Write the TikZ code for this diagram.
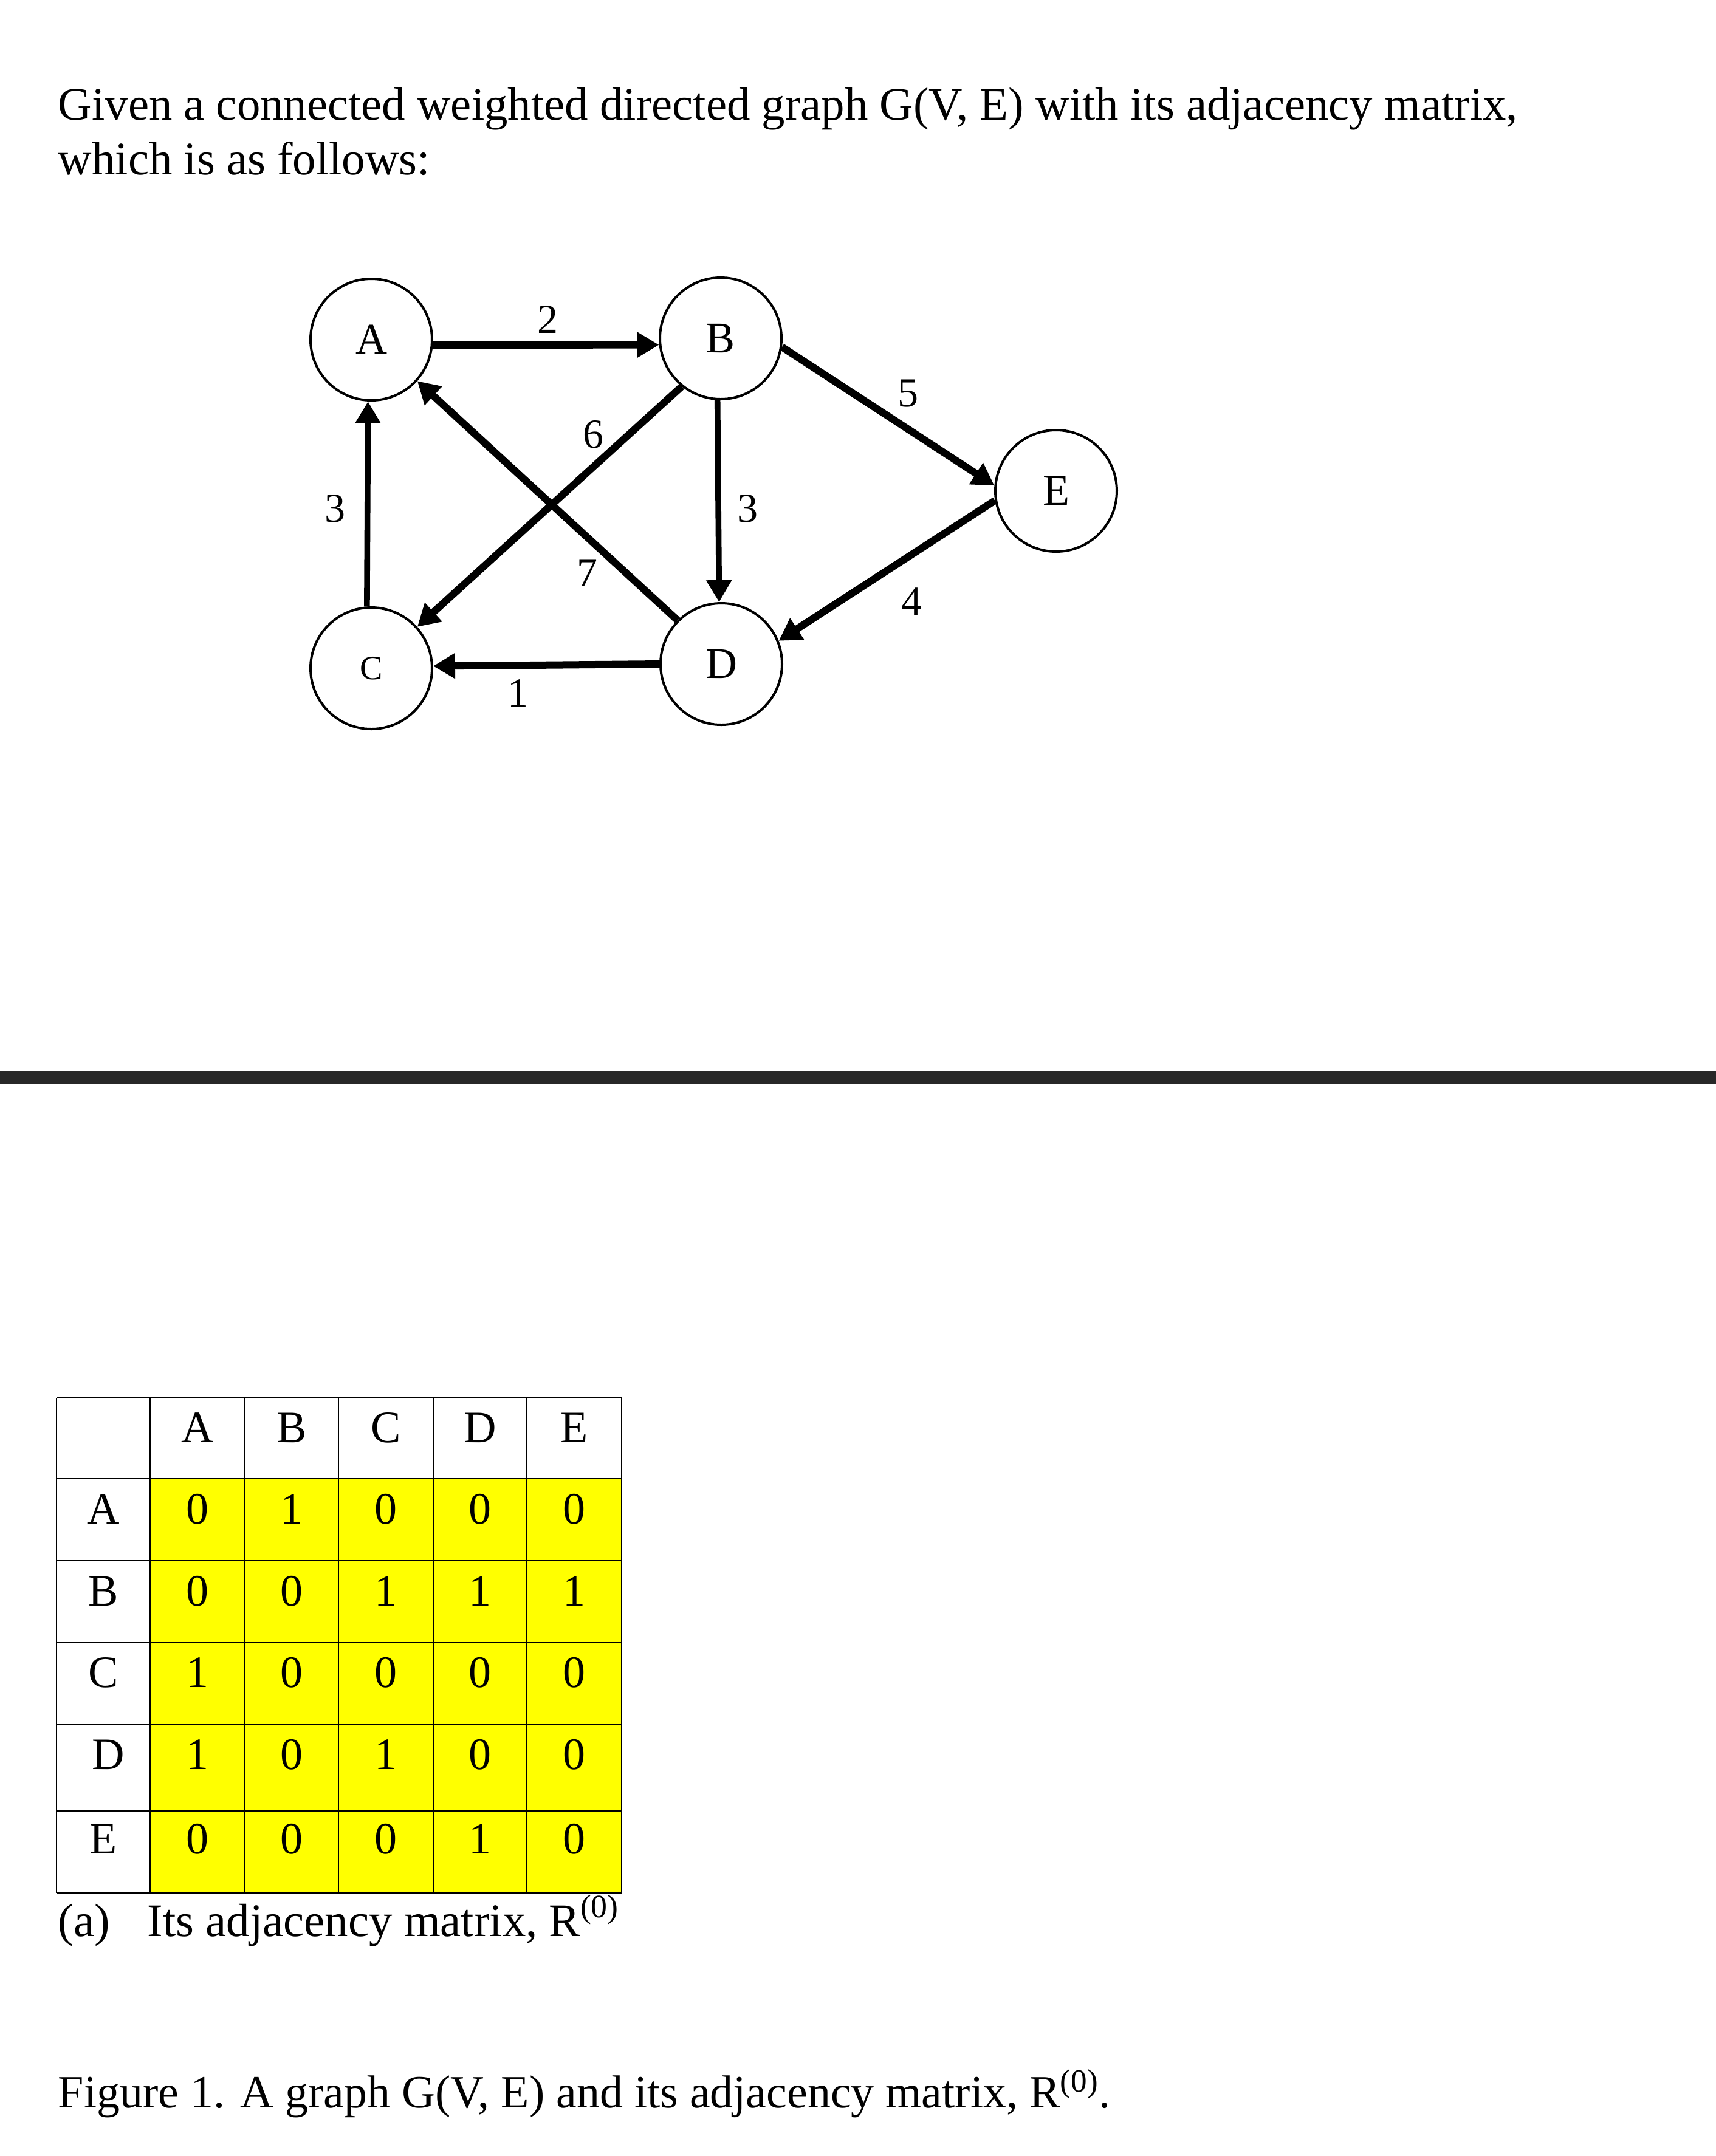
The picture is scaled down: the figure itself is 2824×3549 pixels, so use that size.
\documentclass[tikz,border=0pt]{standalone}
\usepackage{fontspec}
\setmainfont{Liberation Serif}
\usetikzlibrary{arrows.meta}
\definecolor{bar}{HTML}{282828}
\definecolor{cellyellow}{HTML}{FFFF00}
\begin{document}
\begin{tikzpicture}[x=0.25pt,y=-0.25pt,
  vert/.style={circle,draw,line width=1pt,minimum size=50pt,inner sep=0pt,
    font=\fontsize{18}{20}\selectfont},
  edge/.style={line width=3pt,-{Triangle[length=9pt,width=10pt]}},
  thinedge/.style={line width=2.4pt,-{Triangle[length=9pt,width=10pt]}},
  lbl/.style={font=\fontsize{17}{19}\selectfont,inner sep=0pt},
  body/.style={font=\fontsize{19.2}{22}\selectfont,inner sep=0pt,anchor=base west},
  cell/.style={font=\fontsize{18.5}{21}\selectfont,inner sep=0pt,anchor=base},
  grid/.style={line width=0.7pt}
]
\useasboundingbox (0,0) rectangle (2824,3549);
\fill[white] (0,0) rectangle (2824,3549);

% heading text
\node[body] (t1) at (95,197) {Given a connected weighted directed graph G(V, E) with its adjacency matrix,};
\node[body] (t2) at (95,287) {which is as follows:};

% graph
\node[vert] (A) at (611,559) {A};
\node[vert] (B) at (1186,557) {B};
\node[vert,font=\fontsize{14}{16}\selectfont] (C) at (611,1100) {C};
\node[vert] (D) at (1187,1093) {D};
\node[vert] (E) at (1738,808) {E};

\draw[edge] (A.-5) -- (B.-174);
\draw[edge] (B.-8) -- (E.175);
\draw[edge] (E.189) -- (D.22);
\draw[thinedge] (B.-93) -- (D.92);
\draw[edge] (B.-129) -- (C.42);
\draw[edge] (D.135) -- (A.-42);
\draw[edge] (D.180) -- (C.2);
\draw[thinedge] (C.94) -- (A.-93);

\node[lbl] (l2) at (901,526) {2};
\node[lbl] (l5) at (1494,648) {5};
\node[lbl] (l4) at (1500,990) {4};
\node[lbl] (l3r) at (1230,837) {3};
\node[lbl] (l6) at (976,715) {6};
\node[lbl] (l7) at (966,943) {7};
\node[lbl] (l1) at (852,1141) {1};
\node[lbl] (l3l) at (551,837) {3};

% separator bar
\fill[bar] (0,1763) rectangle (2824,1784);

% table
\fill[cellyellow] (247,2434) rectangle (1023,3116);
\foreach \xx in {93,247,403,557,713,867,1023} \draw[grid] (\xx,2301) -- (\xx,3116);
\foreach \yy in {2301,2434,2569,2704,2839,2981,3116} \draw[grid] (93,\yy) -- (1023,\yy);

\foreach \lab/\xx in {A/325,B/480,C/635,D/790,E/945}
  \node[cell] (h\lab) at (\xx,2374) {\lab};
\foreach \lab/\yy/\dx in {A/2508/0,B/2643/0,C/2777/0,D/2912/8,E/3051/0}
  \node[cell] (r\lab) at (170+\dx,\yy) {\lab};

\foreach \yy/\row in {2508/{0,1,0,0,0},2643/{0,0,1,1,1},2777/{1,0,0,0,0},2912/{1,0,1,0,0},3051/{0,0,0,1,0}}{
  \foreach \v [count=\i] in \row
    \node[cell] (m\i-\yy) at (170+155*\i,\yy) {\v};
}

\node[body] (capa) at (95,3187) {(a)};
\node[body] (capb) at (242,3187) {Its adjacency matrix, R\textsuperscript{(0)}};

\node[body,font=\fontsize{19}{22}\selectfont] (fig) at (95,3469) {Figure 1. A graph G(V, E) and its adjacency matrix, R\textsuperscript{(0)}.};
\end{tikzpicture}
\end{document}
